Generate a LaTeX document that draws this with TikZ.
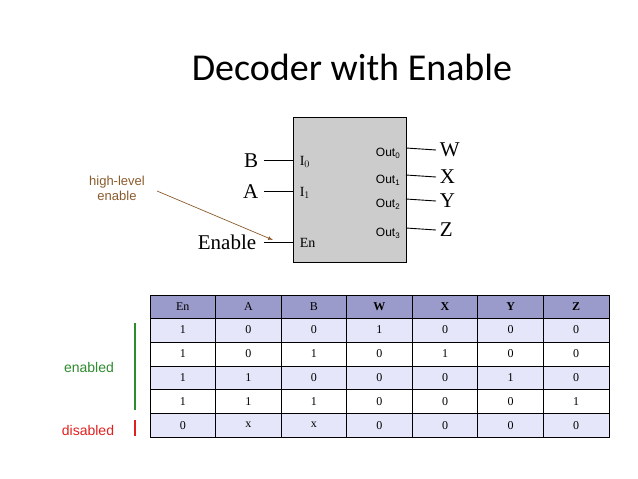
\documentclass[tikz,border=0pt]{standalone}
\usepackage{fontspec}
\setmainfont{Liberation Serif}
\newfontfamily\titlefont{Carlito}
\newfontfamily\arial{Liberation Sans}
\definecolor{hdr}{HTML}{9B9BCB}
\definecolor{rowa}{HTML}{E6E6FA}
\definecolor{brn}{HTML}{8B5A2B}
\definecolor{grn}{HTML}{2E8B2E}
\definecolor{rd}{HTML}{E02020}
\begin{document}
\begin{tikzpicture}[x=1pt,y=-1pt,line width=0.9pt,
  big/.style={font=\fontsize{21}{21}\selectfont},
  pin/.style={font=\fontsize{14}{14}\selectfont,anchor=west},
  outl/.style={font=\arial\fontsize{12}{12}\selectfont,anchor=east},
  cell/.style={font=\fontsize{12}{12}\selectfont}]
\useasboundingbox (0,0) rectangle (638,479);
\node[font=\titlefont\fontsize{38}{38}\selectfont] (title) at (352,67) {Decoder with Enable};
\node[draw,fill=black!20,minimum width=113,minimum height=145,inner sep=0,anchor=north west] (box) at (293,117) {};
% inputs
\coordinate (bi) at (293,160); \coordinate (ai) at (293,191); \coordinate (ei) at (293,242);
\node[big,anchor=east] (B) at (262,161) {B};
\node[big,anchor=east] (A) at (262,192) {A};
\node[big,anchor=east] (En) at (260,242) {Enable};
\draw (B.east) ++(2,-1) coordinate (b0) -- (bi);
\draw (A.east) ++(2,-1) coordinate (a0) -- (ai);
\draw (En.east) ++(4,0) coordinate (e0) -- (ei);
\node[pin] (I0) at (296,162) {I$_0$};
\node[pin] (I1) at (296,193) {I$_1$};
\node[pin] (EnP) at (296,243) {En};
% outputs
\foreach \i/\y/\l in {0/148/W,1/175/X,2/199/Y,3/228/Z}{
  \coordinate (o\i) at (406,\y);
  \node[outl] (ol\i) at (404,\y+5) {Out\textsubscript{\i}};
  \node[big,anchor=west] (L\i) at (436,\y+2) {\l};
  \draw (o\i) -- (L\i.west);
}
% annotation
\node[font=\arial\fontsize{13}{15}\selectfont,text=brn,align=center] (hl) at (117,188) {high-level\\enable};
\coordinate (tip) at (273,240);
\draw[brn,line width=0.7pt,-latex] (157,191) -- (tip);
% table
\def\cw{65.57}
\fill[hdr] (150,295) rectangle (609,318);
\foreach \r in {0,2,4}{\fill[rowa] (150,318+\r*23.8) rectangle (609,341.8+\r*23.8);}
\foreach \c/\t in {0/En,1/A,2/B,3/\textbf{W},4/\textbf{X},5/\textbf{Y},6/\textbf{Z}}{
  \node[cell] (h\c) at (150+\c*\cw+\cw/2,306.5) {\t};}
\foreach \row/\vals [count=\r from 0] in {0/{1,0,0,1,0,0,0},1/{1,0,1,0,1,0,0},2/{1,1,0,0,0,1,0},3/{1,1,1,0,0,0,1},4/{0,x,x,0,0,0,0}}{
  \foreach \v [count=\c from 0] in \vals {
    \node[cell] (t\r\c) at (150+\c*\cw+\cw/2,330+\r*23.8) {\v};}}
\foreach \r in {0,...,6}{\draw (150,295+\r*23.7) -- (609,295+\r*23.7);}
\draw (150,295) rectangle (609,437);
\foreach \c in {1,...,6}{\draw (150+\c*\cw,295) -- (150+\c*\cw,437);}
% side labels
\draw[draw=grn,line width=1.3pt] (135,323) -- (135,410);
\node[font=\arial\fontsize{14}{14}\selectfont,text=grn] (enl) at (89,367) {enabled};
\draw[draw=rd,line width=1.3pt] (135,420) -- (135,436);
\node[font=\arial\fontsize{14}{14}\selectfont,text=rd] (dis) at (88,430) {disabled};
\end{tikzpicture}
\end{document}
